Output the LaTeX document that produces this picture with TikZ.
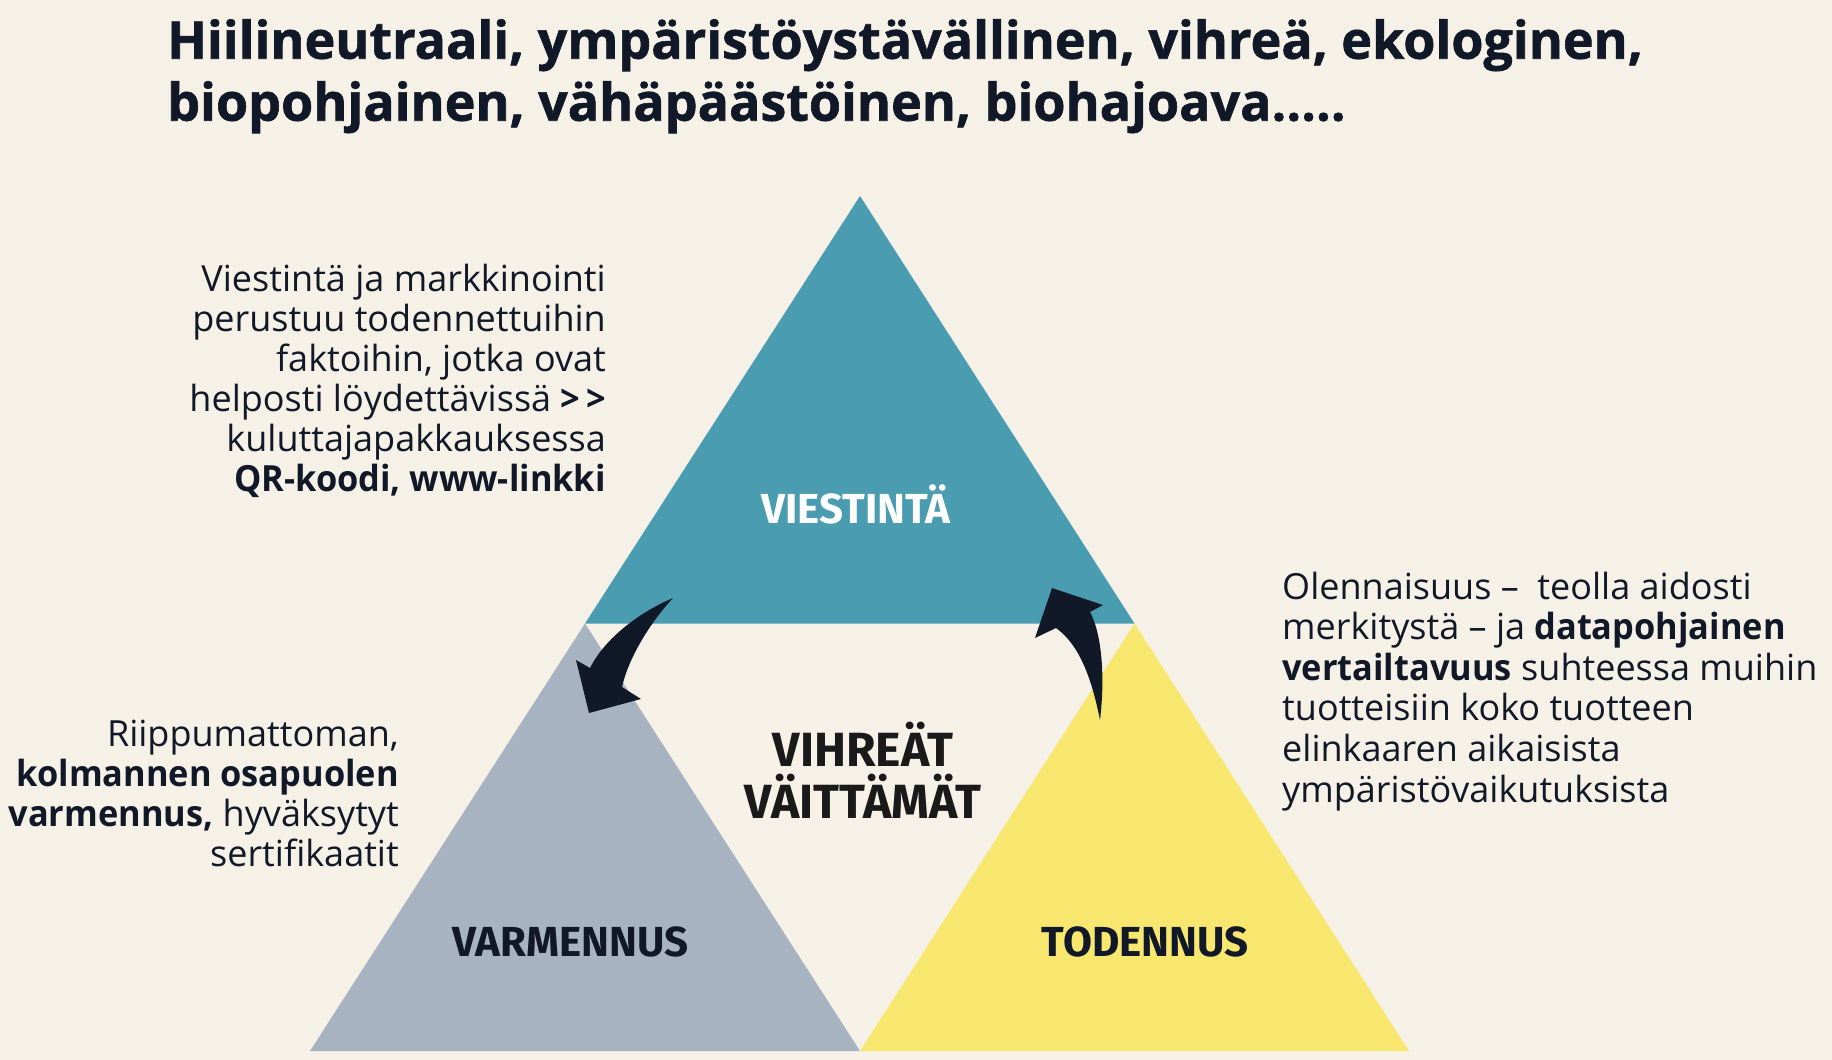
\documentclass[tikz,border=0pt]{standalone}
\usepackage{fontspec}
\setmainfont[BoldFeatures={FakeStretch=0.955}]{Open Sans}
\newfontfamily\titlefont[BoldFeatures={FakeBold=1.2}]{Open Sans}
\newfontfamily\labelfont{Fira Sans}
\usepackage{xcolor}
\definecolor{bgcream}{HTML}{F5F1E7}
\definecolor{tealtri}{HTML}{4A9CB0}
\definecolor{graytri}{HTML}{A7B3C1}
\definecolor{yellowtri}{HTML}{F7E76E}
\definecolor{inkdark}{HTML}{111827}
\definecolor{inkblack}{HTML}{1A1A1A}
\tikzset{
  titletext/.style={font=\titlefont\bfseries\fontsize{52}{62}\selectfont, text=inkdark, inner sep=0pt, align=left},
  bodytext/.style={font=\fontsize{36}{40}\selectfont, text=inkdark, inner sep=0pt},
  trilabel/.style={font=\labelfont\bfseries\fontsize{42}{42}\selectfont, text=inkdark, inner sep=0pt, anchor=base},
  curlarrow/.style={fill=inkdark},
}

\begin{document}
\begin{tikzpicture}[x=1pt, y=-1pt]
    \fill[bgcream] (0,0) rectangle (1832,1060);
    \useasboundingbox (0,0) rectangle (1832,1060);

    \coordinate (apex) at (860,196);
    \coordinate (midL) at (585,623.5);
    \coordinate (midR) at (1134.5,623.5);
    \coordinate (botL) at (310,1051);
    \coordinate (botM) at (860,1051);
    \coordinate (botR) at (1409,1051);

    \fill[tealtri] (apex) -- (midL) -- (midR) -- cycle;
    \fill[graytri] (midL) -- (botL) -- (botM) -- cycle;
    \fill[yellowtri] (midR) -- (botM) -- (botR) -- cycle;

    \node[titletext, anchor=north west] (title) at (167,19)
        {Hiilineutraali, ympäristöystävällinen, vihreä, ekologinen,\\
         biopohjainen, vähäpäästöinen, biohajoava.....};

    \node[trilabel, text=white] (viestinta) at (856,523.3) {VIESTINTÄ};
    \node[trilabel] (varmennus) at (570.5,956.7) {VARMENNUS};
    \node[trilabel] (todennus) at (1145,956.7) {TODENNUS};
    \node[trilabel, anchor=north, align=center, text=inkblack,
          font=\labelfont\bfseries\fontsize{48}{52}\selectfont] (vaitteet) at (863,722)
        {VIHREÄT\\VÄITTÄMÄT};

    \node[bodytext, anchor=north east, align=right] (viestintatxt) at (606,263.6)
        {Viestintä ja markkinointi\\
         perustuu todennettuihin\\
         faktoihin, jotka ovat\\
         helposti löydettävissä \textbf{>\,>}\\
         kuluttajapakkauksessa\\
         \textbf{QR-koodi, www-linkki}};
    \node[bodytext, anchor=north east, align=right] (varmennustxt) at (399,719.6)
        {Riippumattoman,\\
         \textbf{kolmannen osapuolen}\\
         \textbf{varmennus,} hyväksytyt\\
         sertifikaatit};
    \node[bodytext, anchor=north west, align=left,
          font=\fontsize{36}{40.6}\selectfont] (todennustxt) at (1282,571.6)
        {Olennaisuus –\ \ teolla aidosti\\
         merkitystä – ja \textbf{datapohjainen}\\
         \textbf{vertailtavuus} suhteessa muihin\\
         tuotteisiin koko tuotteen\\
         elinkaaren aikaisista\\
         ympäristövaikutuksista};

    \fill[curlarrow] (673,598) .. controls (640,612) and (605,638) .. (590,668)
        -- (576,660) -- (589,713) -- (641,699) -- (622,687)
        .. controls (628,660) and (648,625) .. (673,598) -- cycle;
    \fill[curlarrow] (1100,720) .. controls (1092,680) and (1080,645) .. (1056,628)
        -- (1035,638) -- (1052,588) -- (1103,605) -- (1090,612)
        .. controls (1100,630) and (1106,670) .. (1100,720) -- cycle;
\end{tikzpicture}
\end{document}
